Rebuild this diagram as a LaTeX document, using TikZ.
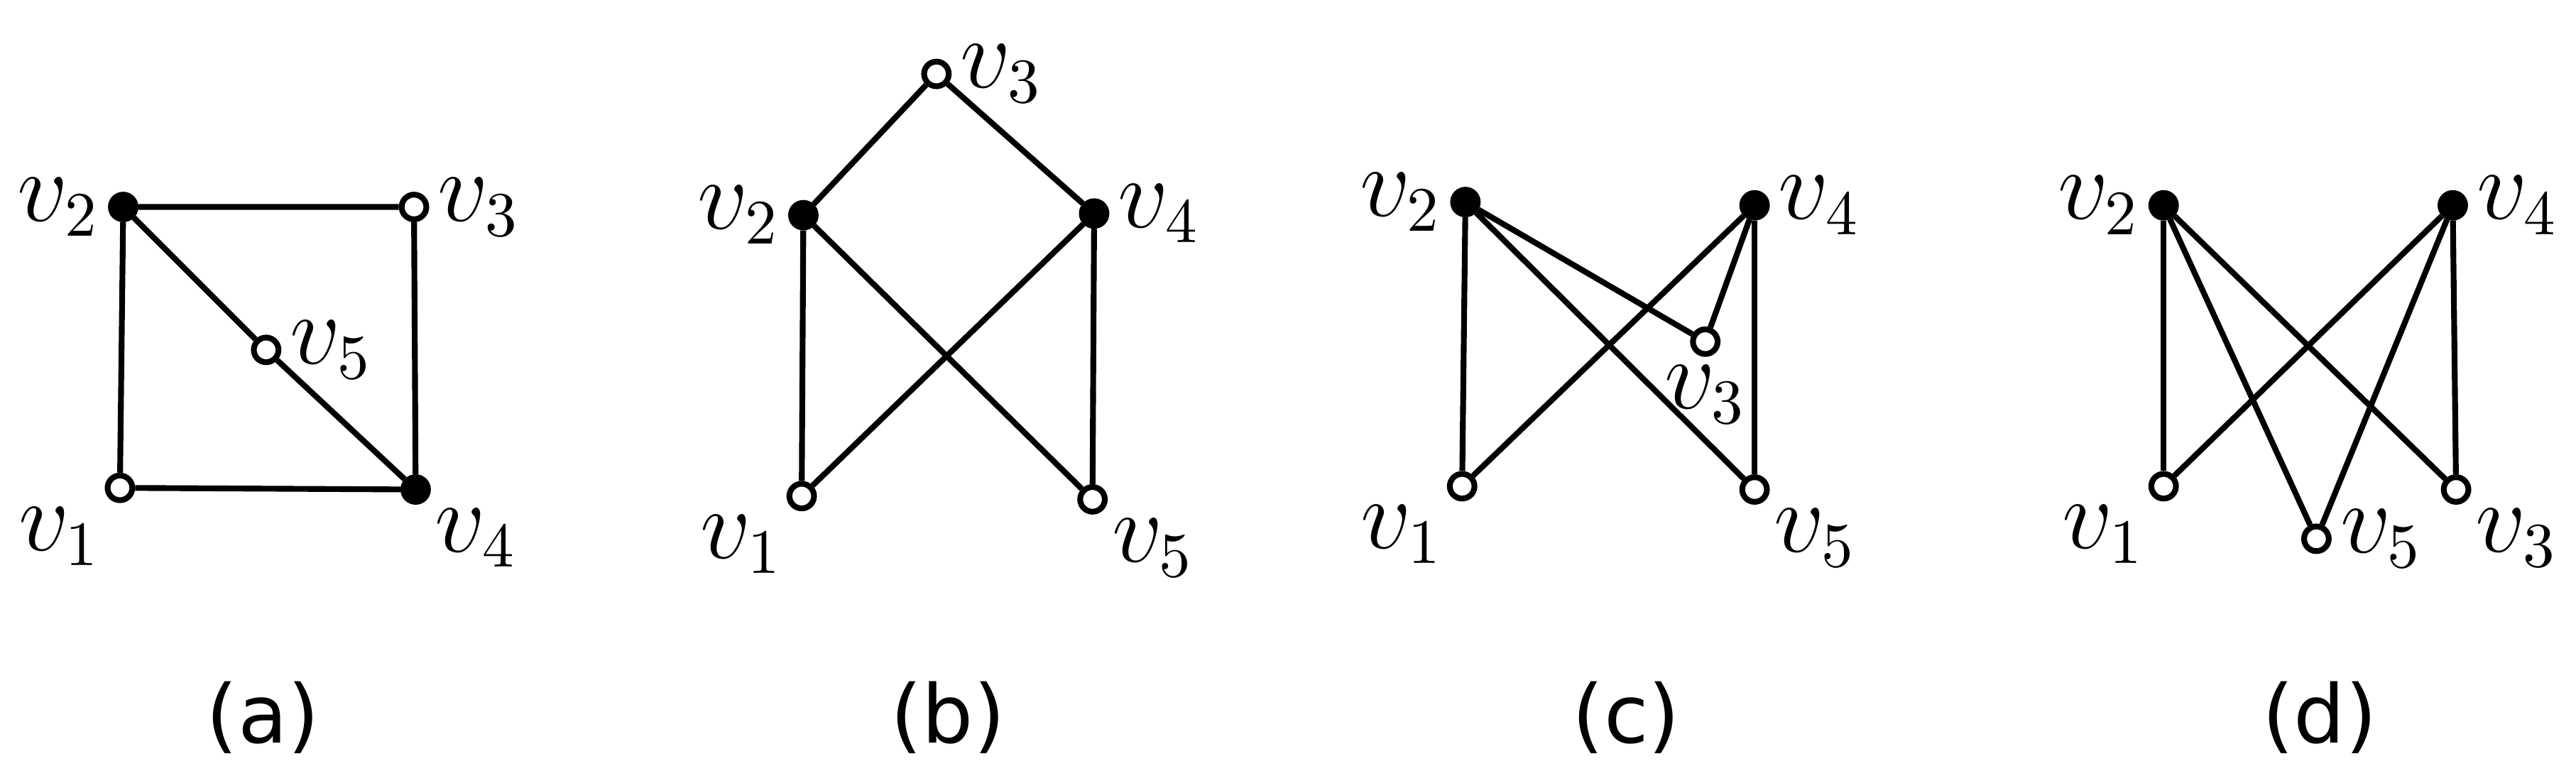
\documentclass[tikz,border=0pt]{standalone}
\usepackage{fontspec}
\setmainfont{DejaVu Sans}
\usepackage{amsmath}

\begin{document}
\begin{tikzpicture}[x=0.01cm, y=-0.01cm,
  wv/.style={draw, circle, fill=white, line width=1pt, inner sep=0pt, minimum size=0.15cm},
  bv/.style={draw, circle, fill=black, line width=1pt, inner sep=0pt, minimum size=0.15cm},
  lbl/.style={font=\fontsize{16}{18}\selectfont, inner sep=1pt},
  panelcap/.style={font=\fontsize{14}{16}\selectfont},
  every path/.style={line width=1pt}]
\useasboundingbox (0,0) rectangle (1568,466);

% (a)
\node [bv, label={[lbl]left:$v_2$}] (a2) at (75, 126) {};
\node [wv, label={[lbl]right:$v_3$}] (a3) at (252, 126) {};
\node [wv, label={[lbl]right:$v_5$}] (a5) at (162, 213) {};
\node [wv, label={[lbl]below left:$v_1$}] (a1) at (73, 297) {};
\node [bv, label={[lbl]below right:$v_4$}] (a4) at (253, 298) {};
\draw (a2) -- (a3) -- (a4) -- (a1) -- (a2);
\draw (a2) -- (a5) -- (a4);
\node [panelcap] (ca) at (160, 437) {(a)};

% (b)
\node [wv, label={[lbl]right:$v_3$}] (b3) at (570, 45) {};
\node [bv, label={[lbl]left:$v_2$}] (b2) at (489, 131) {};
\node [bv, label={[lbl]right:$v_4$}] (b4) at (666, 130) {};
\node [wv, label={[lbl]below left:$v_1$}] (b1) at (488, 302) {};
\node [wv, label={[lbl]below right:$v_5$}] (b5) at (665, 304) {};
\draw (b2) -- (b3) -- (b4);
\draw (b2) -- (b1);
\draw (b4) -- (b5);
\draw (b2) -- (b5);
\draw (b4) -- (b1);
\node [panelcap] (cb) at (577, 437) {(b)};

% (c)
\node [bv, label={[lbl]left:$v_2$}] (c2) at (892, 123) {};
\node [bv, label={[lbl]right:$v_4$}] (c4) at (1068, 125) {};
\node [wv, label={[lbl]below:$v_3$}] (c3) at (1038, 208) {};
\node [wv, label={[lbl]below left:$v_1$}] (c1) at (890, 296) {};
\node [wv, label={[lbl]below right:$v_5$}] (c5) at (1068, 298) {};
\foreach \t in {c1, c3, c5} {
  \draw (c2) -- (\t);
  \draw (c4) -- (\t);
}
\node [panelcap] (cc) at (990, 437) {(c)};

% (d)
\node [bv, label={[lbl]left:$v_2$}] (d2) at (1317, 125) {};
\node [bv, label={[lbl]right:$v_4$}] (d4) at (1493, 125) {};
\node [wv, label={[lbl]below left:$v_1$}] (d1) at (1317, 296) {};
\node [wv, label={[lbl]right:$v_5$}] (d5) at (1410, 328) {};
\node [wv, label={[lbl]below right:$v_3$}] (d3) at (1495, 298) {};
\foreach \t in {d1, d5, d3} {
  \draw (d2) -- (\t);
  \draw (d4) -- (\t);
}
\node [panelcap] (cd) at (1412, 437) {(d)};
\end{tikzpicture}
\end{document}
